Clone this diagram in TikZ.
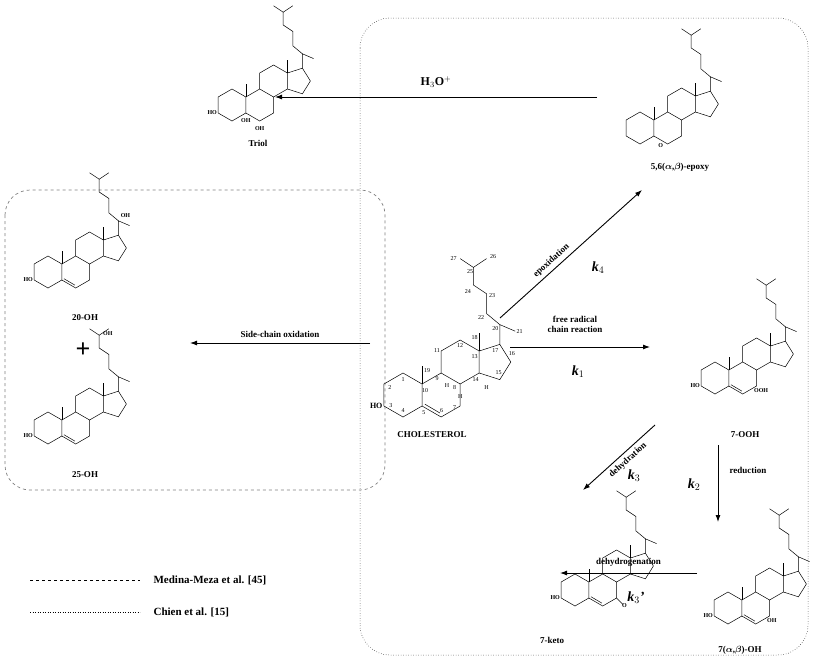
\documentclass[tikz,border=0pt]{standalone}
\usepackage{amsmath,amssymb,bm}
\usepackage{fontspec}
\setmainfont{Liberation Serif}
\usetikzlibrary{arrows.meta}
\newcommand\sterolskel{%
  \draw (0,1)--(0.866,0.5)--(0.866,-0.5)--(0,-1)--(-0.866,-0.5)--(-0.866,0.5)--cycle;
  \draw (0.866,-0.5)--(1.732,-1)--(2.598,-0.5)--(2.598,0.5)--(1.732,1)--(0.866,0.5);
  \draw (1.732,1)--(1.732,2)--(2.598,2.5)--(3.464,2)--(3.464,1)--(2.598,0.5);
  \draw (3.464,1)--(4.4,0.7)--(4.9,1.5)--(4.4,2.3)--(3.464,2);
  \draw (0.866,0.5)--(0.866,1.3);
  \draw (3.464,2)--(3.464,2.8);
  \draw (4.4,2.3)--(4.4,3.2)--(5.1,2.9);
  \draw (4.4,3.2)--(3.8,3.7)--(3.8,4.6)--(3.2,5.0)--(3.2,5.8)--(3.8,6.2);
  \draw (3.2,5.8)--(2.6,6.2);}
\newcommand\dbondfive{\draw (1.0,-0.42)--(1.68,-0.82);}
\tikzset{
  mol/.style={scale=16,yscale=-1},
  big/.style={scale=22,yscale=-1},
  grp/.style={font=\bfseries\fontsize{6}{6}\selectfont,inner sep=0.5pt},
  num/.style={font=\fontsize{6}{6}\selectfont,inner sep=0.5pt},
  lab/.style={font=\bfseries\fontsize{9}{10}\selectfont},
  kk/.style={font=\bfseries\itshape\fontsize{14}{14}\selectfont},
  arr/.style={-{Latex[length=7pt,width=5pt]},line width=0.9pt},
}
\begin{document}
\begin{tikzpicture}[x=1pt,y=-1pt,line width=0.5pt]
\useasboundingbox (0,0) rectangle (815,664);
% boxes
\draw[dotted,rounded corners=30pt] (360,18) rectangle (808,655);
\draw[dashed,gray,line width=0.7pt,rounded corners=25pt] (5,190) rectangle (385,490);

% Triol
\begin{scope}[shift={(232,105)},mol]
  \sterolskel
  \node[grp,anchor=east] (triolHO) at (-0.9,-0.5) {HO};
  \node[grp,anchor=north] (triolOHa) at (0.866,-0.8) {OH};
  \node[grp,anchor=north] (triolOHb) at (1.732,-1.3) {OH};
\end{scope}
\node[lab] (triol) at (258,143) {Triol};

% epoxy
\begin{scope}[shift={(640,128)},mol]
  \sterolskel
  \node[grp,anchor=north] (epoO) at (1.3,-0.95) {O};
\end{scope}
\node[lab] (epoxy) at (680,167) {5,6($\bm\alpha$,$\bm\beta$)-epoxy};

% cholesterol
\begin{scope}[shift={(403,395)},big]
  \sterolskel \dbondfive
  \node[grp,font=\bfseries\fontsize{8}{8}\selectfont,anchor=east] (cholHO) at (-0.9,-0.5) {HO};
  \foreach \n/\x/\y in {1/0/0.7,2/-0.6/0.35,3/-0.55/-0.5,4/0/-0.7,5/0.95/-0.8,6/1.75/-0.7,
    7/2.35/-0.55,8/2.35/0.35,9/1.55/0.75,10/1.0/0.2,11/1.55/2.0,12/2.6/2.25,13/3.25/1.75,
    14/3.3/0.7,15/4.35/1.0,16/4.95/1.9,17/4.2/2.0,18/3.25/2.6,19/1.1/1.1,20/4.2/3.0,
    21/5.3/2.9,22/3.55/3.5,23/4.05/4.5,24/2.95/4.7,25/3.05/5.6,26/4.1/6.3,27/2.3/6.2}
    \node[num] (c\n) at (\x,\y) {\n};
  \node[num] (h9) at (2.0,0.45) {H};
  \node[num] (h8) at (2.6,-0.05) {H};
  \node[num] (h14) at (3.8,0.35) {H};
\end{scope}
\node[lab] (chol) at (432,435) {CHOLESTEROL};

% 7-OOH
\begin{scope}[shift={(715,378)},mol]
  \sterolskel \dbondfive
  \node[grp,anchor=north west] (oohG) at (2.4,-0.6) {OOH};
  \node[grp,anchor=east] (oohHO) at (-0.9,-0.5) {HO};
\end{scope}
\node[lab] (ooh) at (745,435) {7-OOH};

% 7-keto
\begin{scope}[shift={(575,590)},mol]
  \sterolskel \dbondfive
  \draw (2.598,-0.5)--(3.0,-0.9);
  \node[grp,anchor=north west] (ketoO) at (2.9,-0.8) {O};
  \node[grp,anchor=east] (ketoHO) at (-0.9,-0.5) {HO};
\end{scope}
\node[lab] (keto) at (552,640) {7-keto};

% 7-OH
\begin{scope}[shift={(728,608)},mol]
  \sterolskel \dbondfive
  \node[grp,anchor=north west] (ohG) at (2.4,-0.6) {OH};
  \node[grp,anchor=east] (ohHO) at (-0.9,-0.5) {HO};
\end{scope}
\node[lab] (seven) at (740,650) {7($\bm\alpha$,$\bm\beta$)-OH};

% 20-OH
\begin{scope}[shift={(48,272)},mol]
  \sterolskel \dbondfive
  \node[grp,anchor=west] (tOH) at (4.5,3.5) {OH};
  \node[grp,anchor=east] (tHO) at (-0.9,-0.5) {HO};
\end{scope}
\node[lab] (twenty) at (85,318) {20-OH};
\node[font=\bfseries\fontsize{26}{26}\selectfont] (plus) at (83,350) {+};

% 25-OH
\begin{scope}[shift={(48,428)},mol]
  \sterolskel \dbondfive
  \node[grp,anchor=west] (fOH) at (3.4,5.9) {OH};
  \node[grp,anchor=east] (fHO) at (-0.9,-0.5) {HO};
\end{scope}
\node[lab] (twentyfive) at (85,475) {25-OH};

% reaction arrows
\coordinate (a1) at (597,97);  \coordinate (a2) at (275,97);
\draw[arr] (a1) -- node[above=6pt,lab,font=\bfseries\fontsize{12}{12}\selectfont]{H$_3$O$^+$} (a2);
\coordinate (b1) at (500,318); \coordinate (b2) at (642,190);
\draw[arr] (b1) -- node[sloped,above,lab,pos=0.4]{epoxidation} (b2);
\node[kk] (k4) at (598,268) {k$_4$};
\coordinate (c1) at (510,347); \coordinate (c2) at (650,347);
\draw[arr] (c1) -- (c2);
\node[lab,align=center] (frc) at (575,324) {free radical\\chain reaction};
\node[kk] (k1) at (578,372) {k$_1$};
\coordinate (d1) at (370,343); \coordinate (d2) at (190,343);
\draw[arr] (d1) -- node[above=2pt,lab]{Side-chain oxidation} (d2);
\coordinate (e1) at (655,425); \coordinate (e2) at (583,490);
\draw[arr] (e1) -- node[sloped,below,lab,pos=0.45]{dehydration} (e2);
\node[kk] (k3) at (634,476) {k$_3$};
\coordinate (f1) at (718,445); \coordinate (f2) at (718,522);
\draw[arr] (f1) -- (f2);
\node[kk] (k2) at (694,485) {k$_2$};
\node[lab] (red) at (748,470) {reduction};
\coordinate (g1) at (697,573); \coordinate (g2) at (560,573);
\draw[arr] (g1) -- node[above=3pt,lab]{dehydrogenation} (g2);
\node[kk] (k3p) at (636,598) {k$_3$'};

% legend
\coordinate (l1) at (30,580); \coordinate (l2) at (140,580);
\draw[dashed,line width=0.7pt] (l1) -- (l2);
\node[lab,anchor=west,font=\bfseries\fontsize{11}{11}\selectfont] (leg1) at (150,580) {Medina-Meza et al. [45]};
\coordinate (m1) at (30,612); \coordinate (m2) at (140,612);
\draw[dotted] (m1) -- (m2);
\node[lab,anchor=west,font=\bfseries\fontsize{11}{11}\selectfont] (leg2) at (150,612) {Chien et al. [15]};
\end{tikzpicture}
\end{document}
